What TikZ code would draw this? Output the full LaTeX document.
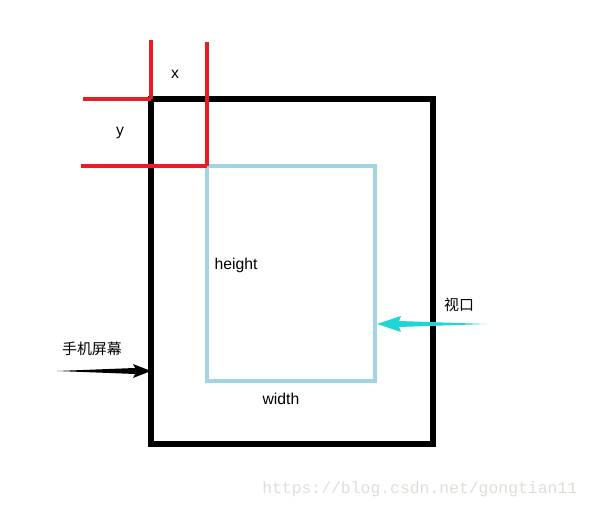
\documentclass[tikz,border=0pt]{standalone}
\usepackage{fontspec}
\setmainfont{Liberation Sans}
\newfontfamily\cjk{Noto Sans CJK SC}
\setmonofont{Liberation Mono}
\usetikzlibrary{positioning}
\definecolor{screenred}{RGB}{230,30,36}
\definecolor{viewblue}{RGB}{160,214,228}
\definecolor{viewcyan}{RGB}{30,214,214}
\definecolor{markgray}{RGB}{222,222,216}

\begin{document}
\begin{tikzpicture}[x=0.75pt,y=-0.75pt,
	screen/.style={draw=black,line width=3.8pt,outer sep=0pt},
	viewport/.style={draw=viewblue,line width=3pt,outer sep=0pt},
	offset/.style={draw=screenred,line width=3pt},
	lbl/.style={font=\fontsize{11.8}{13}\selectfont,inner sep=0pt},
	cjklbl/.style={font=\cjk\fontsize{11.2}{13}\selectfont,inner sep=0pt}]
	\useasboundingbox (0,0) rectangle (593,509);
	\node[screen,minimum width=282*0.75pt,minimum height=345*0.75pt,anchor=north west] (phone) at (151,99) {};
	\node[viewport,minimum width=168*0.75pt,minimum height=215*0.75pt,anchor=north west] (view) at (207,166) {};
	\draw[offset] (phone.north west) ++(0,-59) coordinate (xa) -- (phone.north west);
	\draw[offset] (view.north west) ++(0,-124) coordinate (xb) -- (view.north west);
	\draw[offset] (phone.north west) -- ++(-68,0) coordinate (ya);
	\draw[offset] (view.north west) -- ++(-126,0) coordinate (yb);
		\node[lbl] (xlab) at (175,74) {x};
		\node[lbl] (ylab) at (120,133) {y};
		\node[lbl] (hlab) at (236,265) {height};
		\node[lbl] (wlab) at (281,399) {width};
		\node[cjklbl] (vlab) at (459,305) {视口};
		\node[cjklbl] (plab) at (92,349) {手机屏幕};
	\coordinate (ptail) at (57,371);
	\coordinate (phead) at (phone.west |- ptail);
	\fill[black] (ptail) -- ([shift={(-16,-3)}]phead) -- ([shift={(-18,-7)}]phead) -- (phead)
		-- ([shift={(-18,7)}]phead) -- ([shift={(-16,3)}]phead) -- cycle;
	\coordinate (vtail) at (487,324);
	\coordinate (vhead) at (377,324);
	\fill[viewcyan] (vtail) -- ([shift={(22,-3)}]vhead) -- ([shift={(24,-8)}]vhead) -- (vhead)
		-- ([shift={(24,8)}]vhead) -- ([shift={(22,3)}]vhead) -- cycle;
	\node[text=markgray,font=\ttfamily\fontsize{12.3}{14}\selectfont,anchor=west,inner sep=0pt] (mark) at (262,489) {https://blog.csdn.net/gongtian11};
\end{tikzpicture}
\end{document}
